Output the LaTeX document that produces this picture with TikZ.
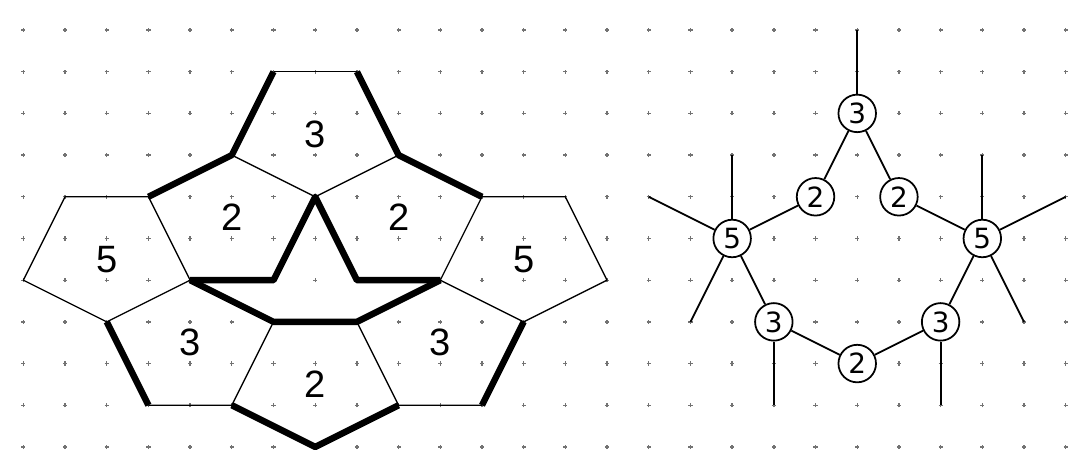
\documentclass[tikz,border=0pt]{standalone}
\usepackage{fontspec}
\setmainfont{Liberation Sans}
\newfontfamily\circfont{DejaVu Sans}
\begin{document}
\begin{tikzpicture}[x=1cm,y=1cm,
  thinedge/.style={line width=0.9pt, line join=round},
  thickedge/.style={line width=4.4pt, line join=round},
  facelabel/.style={font=\fontsize{26}{30}\selectfont, inner sep=0pt},
  dualnode/.style={circle, draw, line width=1.2pt, fill=white, minimum size=0.9cm, inner sep=0pt, font=\circfont\fontsize{19}{22}\selectfont},
  dualedge/.style={line width=1.2pt},
  griddot/.style={line width=0.9pt, draw=black!55}]
\useasboundingbox (-0.56,-0.583) rectangle (25.535,10.72);
% dot grid
\foreach \i in {0,...,25}{
  \foreach \j in {0,...,10}{
    \draw[griddot] (\i-0.05,\j) -- (\i+0.05,\j) (\i,\j-0.05) -- (\i,\j+0.05);
  }
}
% vertices of the pentagon tiling
\coordinate (A) at (6,9);
\coordinate (B) at (8,9);
\coordinate (C) at (5,7);
\coordinate (D) at (9,7);
\coordinate (E) at (7,6);
\coordinate (F) at (3,6);
\coordinate (G) at (11,6);
\coordinate (H) at (1,6);
\coordinate (I) at (13,6);
\coordinate (J) at (0,4);
\coordinate (K) at (4,4);
\coordinate (L) at (6,4);
\coordinate (M) at (8,4);
\coordinate (N) at (10,4);
\coordinate (O) at (14,4);
\coordinate (P) at (2,3);
\coordinate (Q) at (6,3);
\coordinate (R) at (8,3);
\coordinate (S) at (12,3);
\coordinate (T) at (3,1);
\coordinate (U) at (5,1);
\coordinate (V) at (9,1);
\coordinate (W) at (11,1);
\coordinate (X) at (7,0);
% thin edges
\draw[thinedge] (A) -- (B);
\draw[thinedge] (D) -- (E) -- (C);
\draw[thinedge] (F) -- (K);
\draw[thinedge] (N) -- (G);
\draw[thinedge] (F) -- (H) -- (J) -- (P) -- (K);
\draw[thinedge] (G) -- (I) -- (O) -- (S) -- (N);
\draw[thinedge] (Q) -- (U) -- (T);
\draw[thinedge] (R) -- (V) -- (W);
% thick edges
\draw[thickedge] (F) -- (C) -- (A);
\draw[thickedge] (B) -- (D) -- (G);
\draw[thickedge] (K) -- (L) -- (E) -- (M) -- (N);
\draw[thickedge] (K) -- (Q) -- (R) -- (N);
\draw[thickedge] (U) -- (X) -- (V);
\draw[thickedge] (P) -- (T);
\draw[thickedge] (S) -- (W);
% face labels
\node[facelabel] (f1) at (7,7.5) {3};
\node[facelabel] (f2) at (5,5.5) {2};
\node[facelabel] (f3) at (9,5.5) {2};
\node[facelabel] (f4) at (2,4.5) {5};
\node[facelabel] (f5) at (12,4.5) {5};
\node[facelabel] (f6) at (4,2.5) {3};
\node[facelabel] (f7) at (7,1.5) {2};
\node[facelabel] (f8) at (10,2.5) {3};
% dual graph
\node[dualnode] (d1) at (20,8) {3};
\node[dualnode] (d2) at (19,6) {2};
\node[dualnode] (d3) at (21,6) {2};
\node[dualnode] (d4) at (17,5) {5};
\node[dualnode] (d5) at (23,5) {5};
\node[dualnode] (d6) at (18,3) {3};
\node[dualnode] (d7) at (20,2) {2};
\node[dualnode] (d8) at (22,3) {3};
\coordinate (e1) at (20,10);
\coordinate (e2) at (17,7);
\coordinate (e3) at (15,6);
\coordinate (e4) at (16,3);
\coordinate (e5) at (23,7);
\coordinate (e6) at (25,6);
\coordinate (e7) at (24,3);
\coordinate (e8) at (18,1);
\coordinate (e9) at (22,1);
\draw[dualedge] (d1) -- (e1);
\draw[dualedge] (d1) -- (d2);
\draw[dualedge] (d1) -- (d3);
\draw[dualedge] (d2) -- (d4);
\draw[dualedge] (d3) -- (d5);
\draw[dualedge] (d4) -- (e2);
\draw[dualedge] (d4) -- (e3);
\draw[dualedge] (d4) -- (e4);
\draw[dualedge] (d4) -- (d6);
\draw[dualedge] (d5) -- (e5);
\draw[dualedge] (d5) -- (e6);
\draw[dualedge] (d5) -- (e7);
\draw[dualedge] (d5) -- (d8);
\draw[dualedge] (d6) -- (d7);
\draw[dualedge] (d8) -- (d7);
\draw[dualedge] (d6) -- (e8);
\draw[dualedge] (d8) -- (e9);
\end{tikzpicture}
\end{document}
